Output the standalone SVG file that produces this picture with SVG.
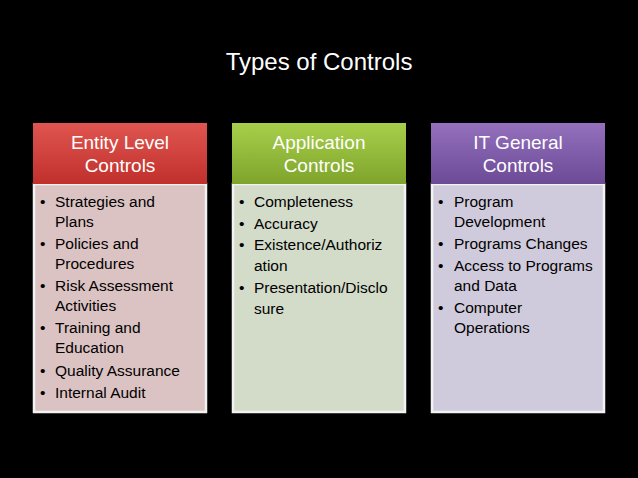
<svg xmlns="http://www.w3.org/2000/svg" width="638" height="478" viewBox="0 0 638 478">
<defs>
<linearGradient id="gr" x1="0" y1="0" x2="0" y2="1"><stop offset="0" stop-color="#e05550"/><stop offset="1" stop-color="#c0302c"/></linearGradient>
<linearGradient id="gg" x1="0" y1="0" x2="0" y2="1"><stop offset="0" stop-color="#a8cf4a"/><stop offset="1" stop-color="#7ea42c"/></linearGradient>
<linearGradient id="gp" x1="0" y1="0" x2="0" y2="1"><stop offset="0" stop-color="#9470bd"/><stop offset="1" stop-color="#6c4a96"/></linearGradient>
</defs>
<style>
.h{font-family:"Liberation Sans",Arial,sans-serif;font-size:19px;fill:#fff;text-anchor:middle}
.b{font-family:"Liberation Sans",Arial,sans-serif;font-size:15.5px;fill:#000}
.t{font-family:"Liberation Sans",Arial,sans-serif;font-size:24px;fill:#fff;text-anchor:middle}
.body{stroke:#f2f2f2;stroke-width:2.5}
</style>
<rect width="638" height="478" fill="#000"/>
<text class="t" x="319" y="70">Types of Controls</text>
<g id="entity">
<rect class="body" x="34" y="184" width="172" height="228" fill="#dcc3c3"/>
<rect x="33" y="123" width="174" height="61" fill="url(#gr)"/>
<text class="h" x="120" y="149">Entity Level</text><text class="h" x="120" y="172">Controls</text>
<g class="b">
<text x="40" y="207">•</text><text x="55" y="207">Strategies and</text><text x="55" y="227">Plans</text>
<text x="40" y="249">•</text><text x="55" y="249">Policies and</text><text x="55" y="269">Procedures</text>
<text x="40" y="291">•</text><text x="55" y="291">Risk Assessment</text><text x="55" y="311">Activities</text>
<text x="40" y="333">•</text><text x="55" y="333">Training and</text><text x="55" y="353">Education</text>
<text x="40" y="376">•</text><text x="55" y="376">Quality Assurance</text>
<text x="40" y="398">•</text><text x="55" y="398">Internal Audit</text>
</g>
</g>
<g id="application">
<rect class="body" x="233" y="184" width="172" height="228" fill="#d3dbc9"/>
<rect x="232" y="123" width="174" height="61" fill="url(#gg)"/>
<text class="h" x="319" y="149">Application</text><text class="h" x="319" y="172">Controls</text>
<g class="b">
<text x="239" y="207">•</text><text x="254" y="207">Completeness</text>
<text x="239" y="229">•</text><text x="254" y="229">Accuracy</text>
<text x="239" y="250">•</text><text x="254" y="250">Existence/Authoriz</text><text x="254" y="271">ation</text>
<text x="239" y="293">•</text><text x="254" y="293">Presentation/Disclo</text><text x="254" y="314">sure</text>
</g>
</g>
<g id="itgeneral">
<rect class="body" x="432" y="184" width="172" height="228" fill="#d0cbdc"/>
<rect x="431" y="123" width="174" height="61" fill="url(#gp)"/>
<text class="h" x="518" y="149">IT General</text><text class="h" x="518" y="172">Controls</text>
<g class="b">
<text x="438" y="207">•</text><text x="454" y="207">Program</text><text x="454" y="227">Development</text>
<text x="438" y="249">•</text><text x="454" y="249">Programs Changes</text>
<text x="438" y="271">•</text><text x="454" y="271">Access to Programs</text><text x="454" y="291">and Data</text>
<text x="438" y="313">•</text><text x="454" y="313">Computer</text><text x="454" y="333">Operations</text>
</g>
</g>
<g id="connectors"/>
</svg>
